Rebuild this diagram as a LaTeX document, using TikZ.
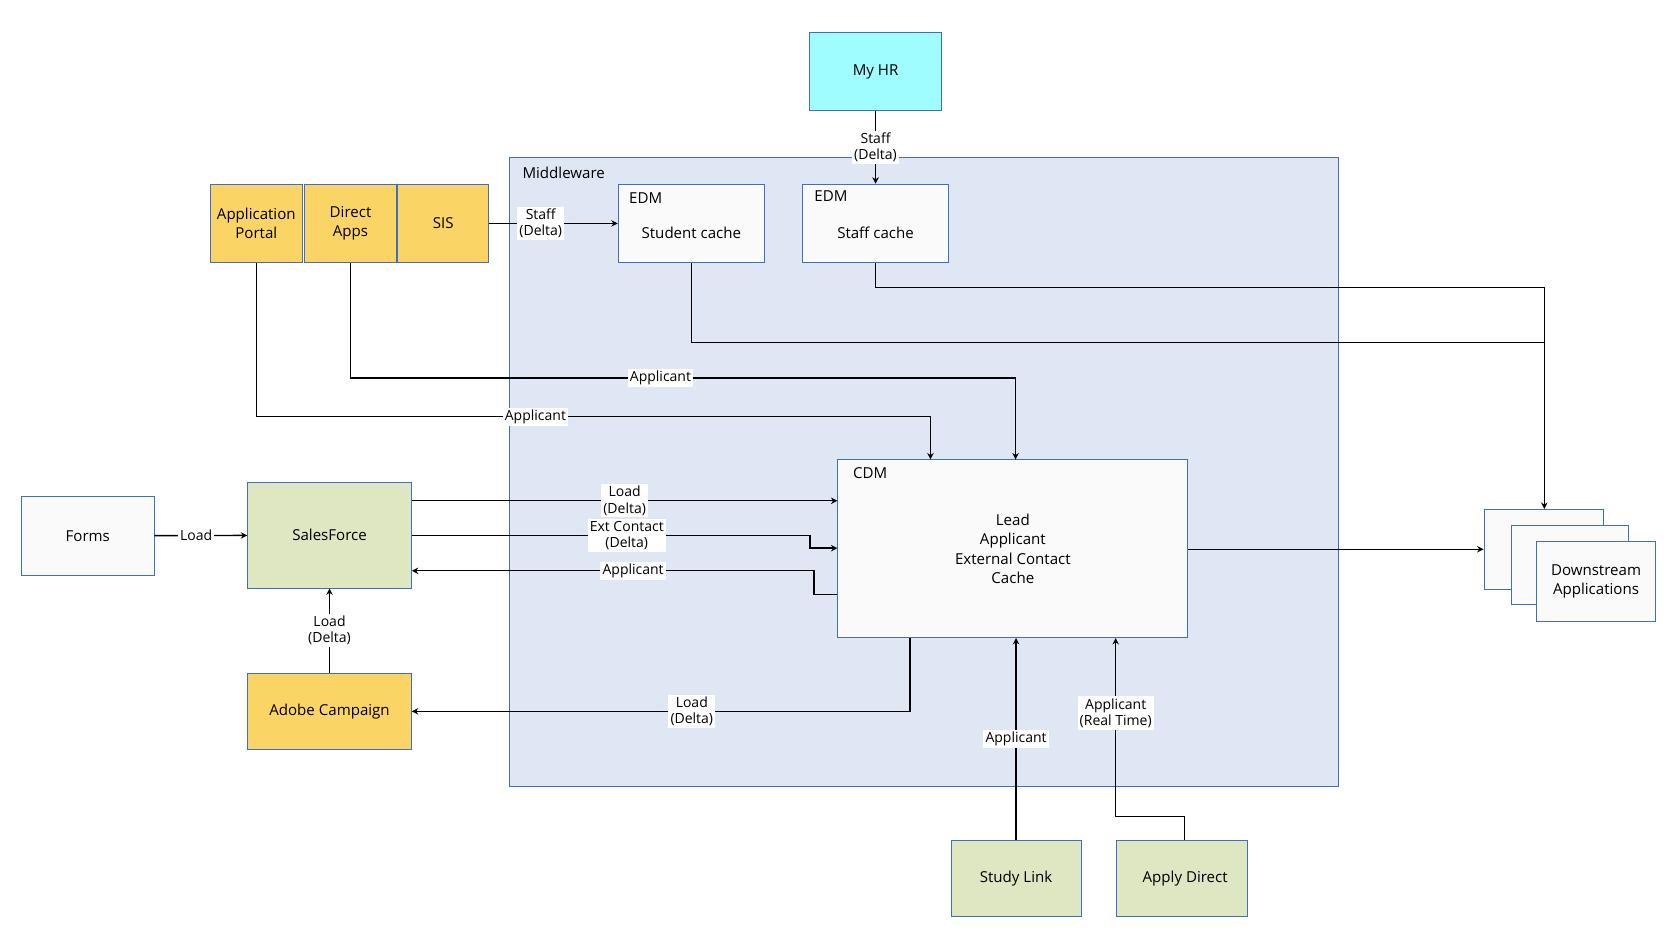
\documentclass[tikz,border=0pt]{standalone}
\usepackage{fontspec}
\setmainfont{Open Sans}
\usepackage{tikz}
\usetikzlibrary{calc}
\usetikzlibrary{arrows.meta}
\definecolor{hrcyan}{HTML}{9FFCFF}
\definecolor{mwfill}{HTML}{E0E7F4}
\definecolor{edge}{HTML}{3F6FC0}
\definecolor{sysyellow}{HTML}{FBD466}
\definecolor{sysgreen}{HTML}{DEE6C2}
\tikzset{box/.style={draw=edge,line width=0.8pt,fill=white!98!black,align=center,inner sep=0pt,font=\fontsize{14}{18}\selectfont},
  lbl/.style={fill=white,inner sep=2pt,align=center,font=\fontsize{13}{15}\selectfont},
  flow/.style={line width=1.3pt,-{Stealth[length=6pt,width=6pt]}}}
\begin{document}
\begin{tikzpicture}[x=1pt,y=-1pt]
   \useasboundingbox (0,0) rectangle (1560,877.5);
   % middleware area
   \node[draw=edge,fill=mwfill,line width=0.8pt,minimum width=770pt,minimum height=584pt] (mw) at (858,438) {};
   \node[anchor=north west,font=\fontsize{14}{17}\selectfont,inner sep=0pt] at (485,155) {Middleware};

   % sources
   \node[box,fill=hrcyan,minimum width=122pt,minimum height=73pt] (hr) at (813,66.5) {My HR};
   \node[box,fill=sysyellow,minimum width=86pt,minimum height=73pt] (ap) at (238,207.5) {Application\\Portal};
   \node[box,fill=sysyellow,minimum width=86pt,minimum height=73pt] (da) at (325.5,207.5) {Direct\\Apps};
   \node[box,fill=sysyellow,minimum width=85pt,minimum height=73pt] (sis) at (411.5,207.5) {SIS};
   \node[box,minimum width=136pt,minimum height=73pt] (sc) at (642,207.5) {\\[10pt]Student cache};
   \node[anchor=north west,inner sep=0pt,font=\fontsize{14}{17}\selectfont] at (584,179) {EDM};
   \node[box,minimum width=136pt,minimum height=73pt] (stc) at (813,207.5) {\\[10pt]Staff cache};
   \node[anchor=north west,inner sep=0pt,font=\fontsize{14}{17}\selectfont] at (756,177) {EDM};
   \node[box,minimum width=325pt,minimum height=165pt] (cdm) at (940.5,509.5) {Lead\\Applicant\\External Contact\\Cache};
   \node[anchor=north west,inner sep=0pt,font=\fontsize{14}{17}\selectfont] at (792,434) {CDM};
   \node[box,minimum width=123pt,minimum height=73pt] (forms) at (81.5,497.5) {Forms};
   \node[box,fill=sysgreen,minimum width=152pt,minimum height=98pt] (sf) at (306,497) {SalesForce};
   \node[box,fill=sysyellow,minimum width=152pt,minimum height=71pt] (adobe) at (306,660.5) {Adobe Campaign};
   \node[box,fill=sysgreen,minimum width=121pt,minimum height=71pt] (sl) at (943.5,815.5) {Study Link};
   \node[box,fill=sysgreen,minimum width=121pt,minimum height=71pt] (ad) at (1097.5,815.5) {\hspace*{6pt}Apply Direct};

   % downstream stack
   \node[box,minimum width=111pt,minimum height=74pt] (ds1) at (1433.5,510) {};
   \node[box,minimum width=109pt,minimum height=73pt] (ds2) at (1457.5,524.5) {};
   \node[box,minimum width=110pt,minimum height=74pt] (ds3) at (1482,540) {Downstream\\Applications};

   % flows
   \draw[flow] (hr) -- node[lbl] {Staff\\(Delta)} (stc);
   \draw[flow] (sis) -- node[lbl,pos=0.4] {Staff\\(Delta)} (sc);
   \draw[line width=1.3pt] (sc.south) |- (1434,318);
   \draw[flow] (stc.south) |- (1434,267) -- (ds1.north -| 1434,0);
   \draw[flow] (da.south) |- node[lbl,pos=0.733] {Applicant} (943,351) -- (cdm.north -| 943,0);
   \draw[flow] (ap.south) |- node[lbl,pos=0.707] {Applicant} (864,387) -- (cdm.north -| 864,0);
   \draw[flow] (forms) -- node[lbl,pos=0.45] {Load} (sf);
   \draw[flow] (sf.east |- 0,465) -- node[lbl,pos=0.5] {Load\\(Delta)} (cdm.west |- 0,465);
   \draw[flow] (sf.east |- 0,497) -- node[lbl,pos=0.54] {Ext Contact\\(Delta)} (752,497) |- (cdm.west |- 0,509);
   \draw[flow] (cdm.west |- 0,552) -| (756,530) -- node[lbl,pos=0.45] {Applicant} (sf.east |- 0,530);
   \draw[flow] (adobe) -- node[lbl] {Load\\(Delta)} (sf);
   \draw[flow] (cdm.south -| 845,0) |- node[lbl,pos=0.719] {Load\\(Delta)} (adobe.east);
   \draw[flow] (cdm.east |- 0,510) -- (ds1.west |- 0,510);
   \draw[flow] (sl) -- node[lbl,pos=0.5] {Applicant} (cdm.south -| sl);
   \draw[flow] (ad.north -| 1100,0) |- (1036,758) -- node[lbl,pos=0.58] {Applicant\\(Real Time)} (cdm.south -| 1036,0);
\end{tikzpicture}
\end{document}
